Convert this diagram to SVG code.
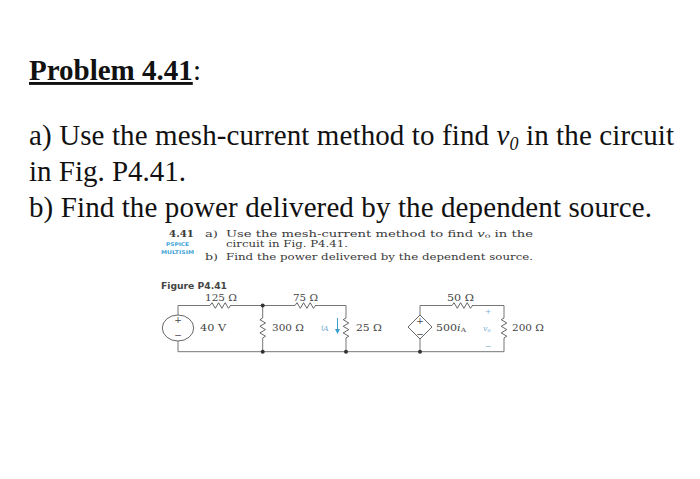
<svg xmlns="http://www.w3.org/2000/svg" width="700" height="479" viewBox="0 0 700 479">
<style>
.t{font-family:"Liberation Serif","Times New Roman",serif;fill:#111}
.h{font-size:29px}
.f{font-family:"DejaVu Serif",serif;font-size:9px;fill:#3a3a3a}
.c{font-family:"DejaVu Serif",serif;font-size:9px;fill:#444}
.s{font-family:"DejaVu Sans",sans-serif;font-weight:700;font-size:8px;fill:#444}
.b{font-family:"DejaVu Sans",sans-serif;font-weight:700;font-size:5px;fill:#45a5d8}
.w{fill:none;stroke:#666;stroke-width:.9}
.r{fill:none;stroke:#555;stroke-width:.9}
.d{fill:#333}
.bl{font-family:"DejaVu Serif",serif;font-size:8px;fill:#7fb4d6;font-style:italic}
</style>
<rect width="700" height="479" fill="#fff"/>
<g id="heading">
<text class="t h" x="29" y="80" font-weight="700" text-decoration="underline">Problem 4.41</text>
<text class="t h" x="193" y="80">:</text>
</g>
<g id="statement">
<text class="t h" x="29" y="145" textLength="645">a) Use the mesh-current method to find <tspan font-style="italic">v</tspan><tspan font-style="italic" font-size="18" dy="5">0</tspan><tspan dy="-5"> in the circuit</tspan></text>
<text class="t h" x="29" y="181">in Fig. P4.41.</text>
<text class="t h" x="29" y="217" textLength="623">b) Find the power delivered by the dependent source.</text>
</g>
<g id="book-text">
<text class="f" x="169" y="237" font-weight="700" textLength="25" lengthAdjust="spacingAndGlyphs">4.41</text>
<text class="f" x="205" y="237" textLength="13" lengthAdjust="spacingAndGlyphs">a)</text>
<text class="f" x="226" y="237" textLength="307" lengthAdjust="spacingAndGlyphs">Use the mesh-current method to find <tspan font-style="italic">v</tspan><tspan font-size="6.500" dy="1">o</tspan><tspan dy="-1"> in the</tspan></text>
<text class="f" x="226" y="247" textLength="122" lengthAdjust="spacingAndGlyphs">circuit in Fig. P4.41.</text>
<text class="f" x="205" y="260" textLength="13" lengthAdjust="spacingAndGlyphs">b)</text>
<text class="f" x="226" y="260" textLength="307" lengthAdjust="spacingAndGlyphs">Find the power delivered by the dependent source.</text>
<text class="b" x="166" y="246" textLength="23" lengthAdjust="spacingAndGlyphs">PSPICE</text>
<text class="b" x="161" y="254" textLength="33" lengthAdjust="spacingAndGlyphs">MULTISIM</text>
<text class="s" x="161" y="289" textLength="66" lengthAdjust="spacingAndGlyphs">Figure P4.41</text>
</g>
<g id="connectors">
<path class="w" d="M178 315V305.500H210M230 305.500H295M315 305.500H346V318M346 338V351.700H178V341"/>
<path class="w" d="M262.700 305.500V318M262.700 338V351.700"/>
<path class="w" d="M420 315V305.500H452M472 305.500H504V318M504 338V351.700H420V339M346 351.700H420"/>
</g>
<g id="V1"><ellipse class="r" cx="178" cy="328" rx="15.700" ry="13"/>
<text class="c" x="178" y="323" text-anchor="middle">+</text><text class="c" x="178" y="338" text-anchor="middle">−</text>
<text class="c" x="200" y="331" textLength="26" lengthAdjust="spacingAndGlyphs">40 V</text></g>
<g id="R125"><path class="r" d="M210 305.500l2-2.800 3.300 5.600 3.300-5.600 3.300 5.600 3.300-5.600 3.300 5.600 2-2.800"/><text class="c" x="205" y="301" textLength="32" lengthAdjust="spacingAndGlyphs">125 Ω</text></g>
<g id="R300"><path class="r" d="M262.700 318l-2.800 1.700 5.600 3.300-5.600 3.300 5.600 3.300-5.600 3.300 5.600 3.300-2.800 1.700"/><text class="c" x="272" y="331" textLength="32" lengthAdjust="spacingAndGlyphs">300 Ω</text></g>
<g id="R75"><path class="r" d="M295 305.500l2-2.800 3.300 5.600 3.300-5.600 3.300 5.600 3.300-5.600 3.300 5.600 2-2.800"/><text class="c" x="293" y="301" textLength="25" lengthAdjust="spacingAndGlyphs">75 Ω</text></g>
<g id="iA"><text class="bl" x="321" y="330" font-size="6">i</text><text class="bl" x="323" y="331" font-size="5" font-style="normal">A</text>
<path d="M337.500 318V331" stroke="#3a9fd0" stroke-width="1"/><path d="M335 329H340L337.500 334Z" fill="#3a9fd0"/></g>
<g id="R25"><path class="r" d="M346 318l-2.800 1.700 5.600 3.300-5.600 3.300 5.600 3.300-5.600 3.300 5.600 3.300-2.800 1.700"/><text class="c" x="356" y="331" textLength="26" lengthAdjust="spacingAndGlyphs">25 Ω</text></g>
<g id="dep"><path class="r" d="M420 315L432 327 420 339 408 327Z"/><text class="c" x="420" y="324" text-anchor="middle">+</text><text class="c" x="420" y="337" text-anchor="middle">−</text>
<text class="c" x="436" y="331" textLength="30" lengthAdjust="spacingAndGlyphs">500<tspan font-style="italic">i</tspan><tspan font-size="6" dy="1">A</tspan></text></g>
<g id="R50"><path class="r" d="M452 305.500l2-2.800 3.300 5.600 3.300-5.600 3.300 5.600 3.300-5.600 3.300 5.600 2-2.800"/><text class="c" x="447" y="301" textLength="27" lengthAdjust="spacingAndGlyphs">50 Ω</text></g>
<g id="vo"><text class="bl" x="488" y="314" font-style="normal" text-anchor="middle">+</text><text class="bl" x="487" y="331" text-anchor="middle">v<tspan font-size="5.500" dy="1">o</tspan></text><text class="bl" x="488" y="349" font-style="normal" text-anchor="middle">−</text></g>
<g id="R200"><path class="r" d="M504 318l-2.800 1.700 5.600 3.300-5.600 3.300 5.600 3.300-5.600 3.300 5.600 3.300-2.800 1.700"/><text class="c" x="512" y="331" textLength="32" lengthAdjust="spacingAndGlyphs">200 Ω</text></g>
<g id="nodes"><circle class="d" cx="262.700" cy="305.500" r="2"/><circle class="d" cx="262.700" cy="351.700" r="2"/><circle class="d" cx="346" cy="351.700" r="2"/><circle class="d" cx="420" cy="351.700" r="2"/></g>
</svg>
